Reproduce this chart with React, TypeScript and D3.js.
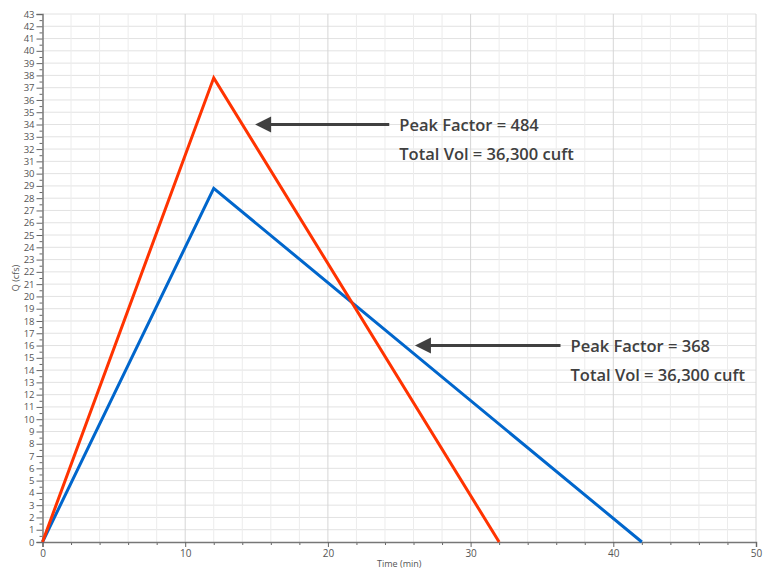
import { useEffect, useRef } from 'react';
import { select, scaleLinear, axisLeft, axisBottom, line, range } from 'd3';

const redTime = [0, 12, 32];
const redFlow = [0, 37.8, 0];
const blueTime = [0, 12, 42];
const blueFlow = [0, 28.8, 0];

const xTicks = [0, 10, 20, 30, 40, 50];
const notes = [
  { tail: [36.3, 16.0], head: [26.1, 16.0], lines: ['Peak Factor = 368', 'Total Vol = 36,300 cuft'] },
  { tail: [24.3, 34.0], head: [14.9, 34.0], lines: ['Peak Factor = 484', 'Total Vol = 36,300 cuft'] },
];

const W = 768;
const H = 576;
const margin = { top: 14, right: 12, bottom: 34, left: 42.5 };

const App = () => {
  const svgRef = useRef(null);

  useEffect(() => {
    const width = W - margin.left - margin.right;
    const height = H - margin.top - margin.bottom;
    const xScale = scaleLinear().domain([0, 50]).range([0, width]);
    const yScale = scaleLinear().domain([0, 43]).range([height, 0]);

    const svgEl = select(svgRef.current);
    svgEl.selectAll('*').remove();
    const svg = svgEl.append('g').attr('transform', `translate(${margin.left},${margin.top})`);

    // grid
    svg
      .selectAll('.hgrid')
      .data(range(1, 44))
      .enter()
      .append('line')
      .attr('x1', 0)
      .attr('x2', width)
      .attr('y1', (d) => yScale(d))
      .attr('y2', (d) => yScale(d))
      .attr('stroke', '#e2e2e2')
      .attr('stroke-width', 1);
    svg
      .selectAll('.vgrid')
      .data(range(2, 51, 2))
      .enter()
      .append('line')
      .attr('x1', (d) => xScale(d))
      .attr('x2', (d) => xScale(d))
      .attr('y1', 0)
      .attr('y2', height)
      .attr('stroke', (d) => (d % 10 === 0 ? '#d6d6d6' : '#ececec'))
      .attr('stroke-width', 1);

    // y axis
    const yMinor = axisLeft(yScale).tickValues(range(0.5, 43, 1)).tickSize(3).tickFormat(() => '');
    const yMinorG = svg.append('g').call(yMinor);
    yMinorG.select('.domain').remove();
    yMinorG.selectAll('line').attr('stroke', '#666');

    const yAxis = axisLeft(yScale).tickValues(range(0, 44)).tickSize(6).tickPadding(2);
    const yAxisGroup = svg.append('g').call(yAxis);
    yAxisGroup.select('.domain').attr('stroke', '#777').attr('stroke-width', 1.5);
    yAxisGroup.selectAll('line').attr('stroke', '#666');
    yAxisGroup
      .selectAll('text')
      .attr('fill', '#555')
      .attr('font-family', 'Open Sans, sans-serif')
      .attr('font-size', '9.5px');

    // x axis
    const xMinor = axisBottom(xScale).tickValues(range(2, 50, 2).filter((d) => d % 10 !== 0)).tickSize(3).tickFormat(() => '');
    const xMinorG = svg.append('g').attr('transform', `translate(0,${height})`).call(xMinor);
    xMinorG.select('.domain').remove();
    xMinorG.selectAll('line').attr('stroke', '#666');

    const xAxis = axisBottom(xScale).tickValues(xTicks).tickSize(5).tickPadding(3);
    const xAxisGroup = svg.append('g').attr('transform', `translate(0,${height})`).call(xAxis);
    xAxisGroup.select('.domain').attr('stroke', '#777').attr('stroke-width', 1.5);
    xAxisGroup.selectAll('line').attr('stroke', '#666');
    xAxisGroup
      .selectAll('text')
      .attr('fill', '#555')
      .attr('font-family', 'Open Sans, sans-serif')
      .attr('font-size', '10px');

    // axis titles
    svg
      .append('text')
      .attr('transform', `translate(${-24},${height / 2}) rotate(-90)`)
      .attr('text-anchor', 'middle')
      .attr('fill', '#555')
      .attr('font-family', 'Open Sans, sans-serif')
      .attr('font-size', '9px')
      .text('Q (cfs)');
    svg
      .append('text')
      .attr('x', width / 2)
      .attr('y', height + 25)
      .attr('text-anchor', 'middle')
      .attr('fill', '#555')
      .attr('font-family', 'Open Sans, sans-serif')
      .attr('font-size', '9px')
      .text('Time (min)');

    // series
    const gLine = line()
      .x((d) => xScale(d[0]))
      .y((d) => yScale(d[1]));
    const series = [
      { color: '#0066cc', pts: blueTime.map((t, i) => [t, blueFlow[i]]) },
      { color: '#ff3300', pts: redTime.map((t, i) => [t, redFlow[i]]) },
    ];
    svg
      .selectAll('.series')
      .data(series)
      .enter()
      .append('path')
      .attr('fill', 'none')
      .attr('stroke', (d) => d.color)
      .attr('stroke-width', 3)
      .attr('stroke-linejoin', 'miter')
      .attr('d', (d) => gLine(d.pts));

    // annotations
    notes.forEach((n) => {
      const hx = xScale(n.head[0]);
      const hy = yScale(n.head[1]);
      const tx = xScale(n.tail[0]);
      svg
        .append('line')
        .attr('x1', tx)
        .attr('x2', hx + 14)
        .attr('y1', hy)
        .attr('y2', hy)
        .attr('stroke', '#404040')
        .attr('stroke-width', 3);
      svg
        .append('path')
        .attr('d', `M${hx},${hy} L${hx + 16},${hy - 8} L${hx + 16},${hy + 8} Z`)
        .attr('fill', '#404040');
      n.lines.forEach((t, i) => {
        svg
          .append('text')
          .attr('x', tx + 10)
          .attr('y', hy + 6 + i * 29)
          .attr('fill', '#404040')
          .attr('font-family', 'Open Sans, sans-serif')
          .attr('font-weight', 600)
          .attr('font-size', '16.5px')
          .text(t);
      });
    });
  }, []);

  return (
    <svg
      ref={svgRef}
      width={W}
      height={H}
      style={{ position: 'absolute', left: 0, top: 0, background: '#fff' }}
    />
  );
};

export default App;
